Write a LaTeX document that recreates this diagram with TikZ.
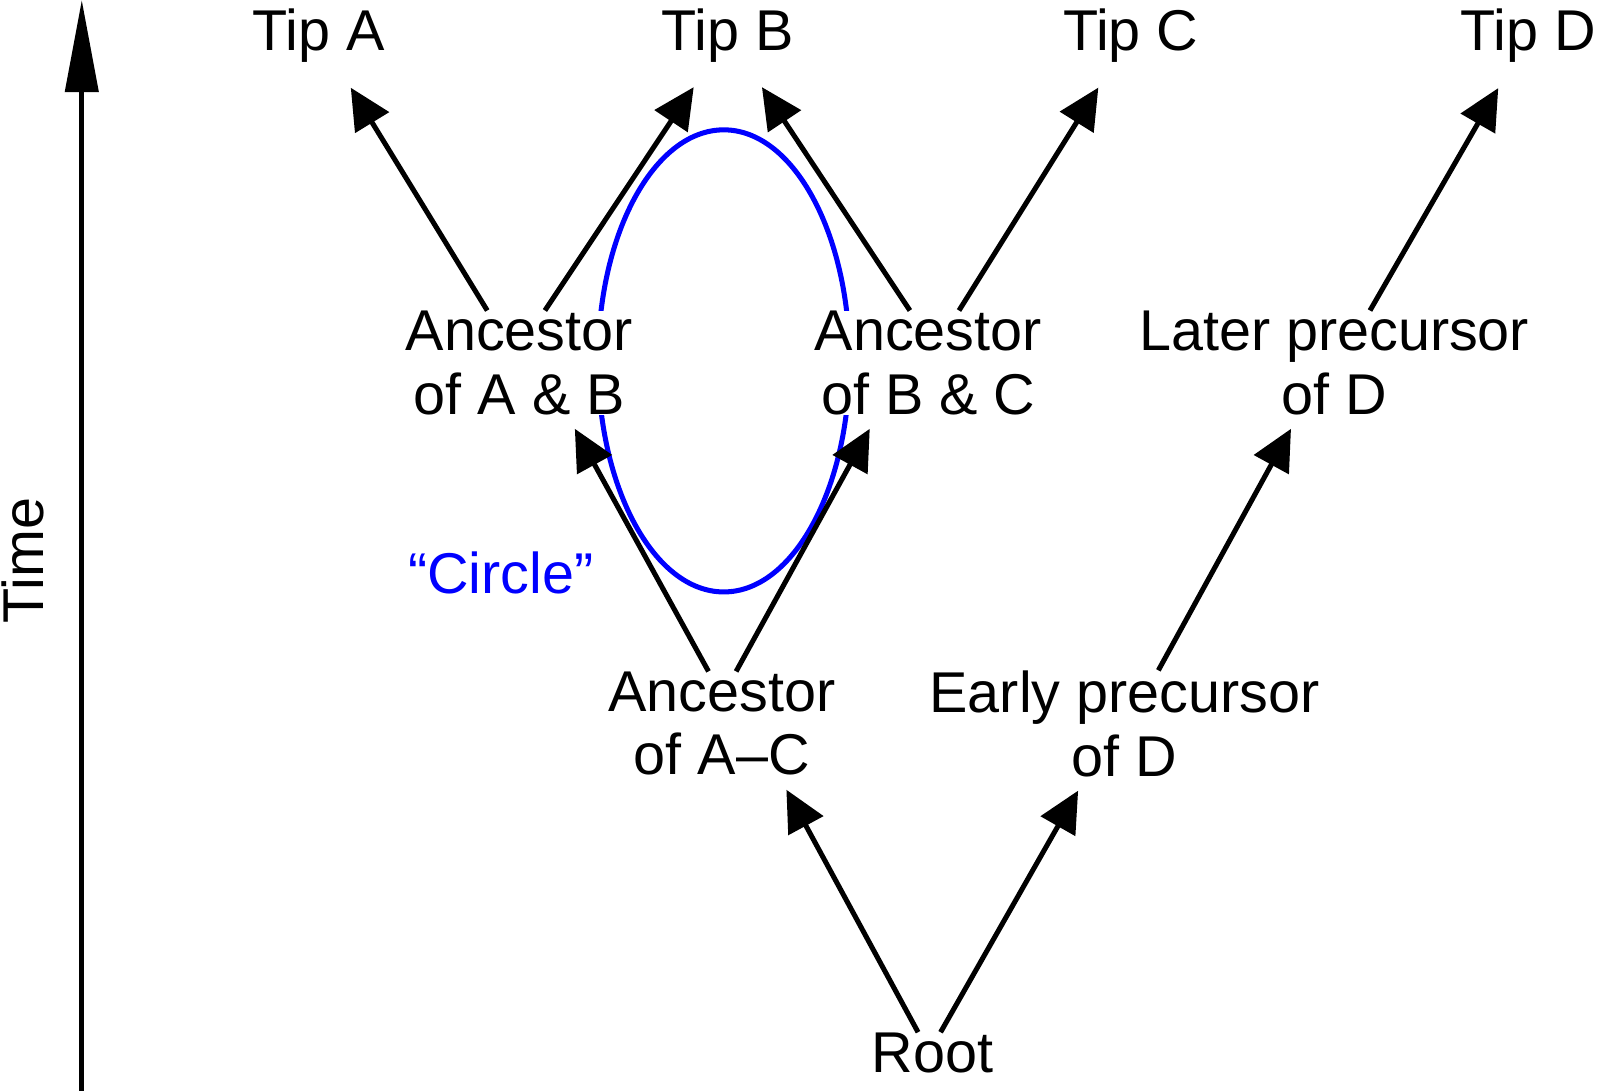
\documentclass[tikz,border=0pt]{standalone}
\usepackage{fontspec}
\setmainfont{Liberation Sans}
\usetikzlibrary{arrows.meta}
\definecolor{cblue}{RGB}{0,0,255}
\begin{document}
\begin{tikzpicture}[x=0.01cm,y=-0.01cm,
  lbl/.style={font=\fontsize{16}{17.6}\selectfont,align=center,inner sep=0pt,fill=white},
  arr/.style={line width=1.4pt,-{Triangle[length=0.4cm,width=0.38cm]},shorten >=0.28cm}]
\useasboundingbox (0,0) rectangle (1565,1067);
\draw[cblue,line width=1.4pt] (708,353) ellipse [x radius=123,y radius=226];
\node[lbl] (tA) at (312,35) {Tip A};
\node[lbl] (tB) at (712,35) {Tip B};
\node[lbl] (tC) at (1106,35) {Tip C};
\node[lbl] (tD) at (1495,35) {Tip D};
\node[lbl] (aAB) at (508,355) {Ancestor\\of A \& B};
\node[lbl] (aBC) at (908,355) {Ancestor\\of B \& C};
\node[lbl] (lat) at (1305,355) {Later precursor\\of D};
\node[lbl] (aAC) at (706,708) {Ancestor\\of A–C};
\node[lbl] (ear) at (1100,708) {Early precursor\\of D};
\node[lbl] (root) at (912,1030) {Root};
\node[lbl,fill=none,text=cblue] (circ) at (490,560) {“Circle”};
\node[lbl,fill=none,rotate=90] (time) at (22,548) {Time};
\coordinate (t0) at (80,1068);
\coordinate (t1) at (80,0);
\draw[line width=1.4pt,-{Triangle[length=0.9cm,width=0.32cm]}] (t0) -- (t1);
\draw[arr] (aAB) -- (tA);
\draw[arr] ([xshift=0.25cm]aAB.north) -- (tB);
\draw[arr] ([xshift=-0.18cm]aBC.north) -- (tB);
\draw[arr] ([xshift=0.3cm]aBC.north) -- (tC);
\draw[arr] ([xshift=0.35cm]lat.north) -- (tD);
\draw[arr,shorten >=0.15cm] ([xshift=-0.13cm]aAC.north) -- ([xshift=0.47cm]aAB.south);
\draw[arr,shorten >=0.15cm] ([xshift=0.14cm]aAC.north) -- ([xshift=-0.5cm]aBC.south);
\draw[arr,shorten >=0.15cm] ([xshift=0.33cm]ear.north) -- ([xshift=-0.35cm]lat.south);
\draw[arr,shorten >=0.15cm] ([xshift=-0.14cm]root.north) -- ([xshift=0.56cm]aAC.south);
\draw[arr,shorten >=0.15cm] ([xshift=0.08cm]root.north) -- ([xshift=-0.38cm]ear.south);
\end{tikzpicture}
\end{document}
